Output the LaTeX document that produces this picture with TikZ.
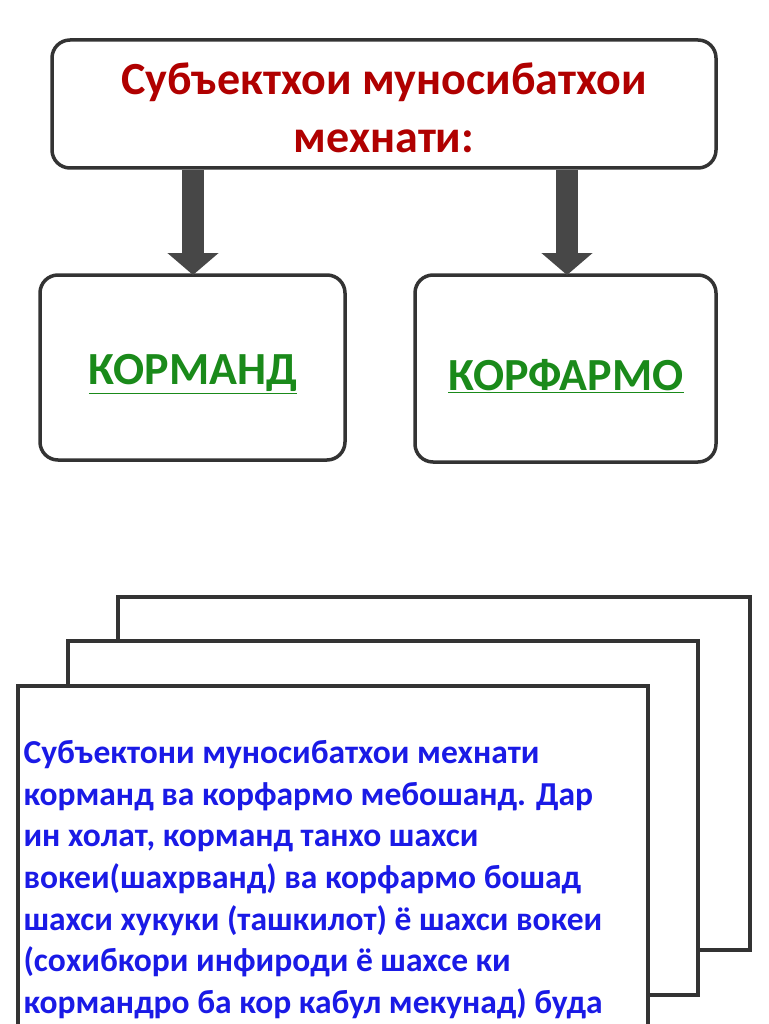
\documentclass[tikz,border=0pt]{standalone}
\usepackage{fontspec}
\setmainfont{Carlito}
\usetikzlibrary{arrows.meta}
\definecolor{boxgray}{HTML}{333333}
\definecolor{titlered}{HTML}{B00000}
\definecolor{roleg}{HTML}{1A8A1A}
\definecolor{textblue}{HTML}{1A1AE6}
\begin{document}
\begin{tikzpicture}[x=1pt, y=-1pt,
    rbox/.style={draw=boxgray, line width=3.5pt, rounded corners=18pt, fill=white},
    page/.style={draw=boxgray, line width=3.5pt, fill=white},
    bigarrow/.style={draw=boxgray!90, line width=22pt, -{Triangle[width=50pt,length=22pt]}}]
    \useasboundingbox (0,0) rectangle (768,1024);
    \clip (0,0) rectangle (768,1024);

    % Boxes
    \draw[rbox] (52,40) rectangle (716,168);
    \node (title) [font=\bfseries\fontsize{46}{58}\selectfont, text=titlered, align=center] at (384,108) {Субъектхои муносибатхои\\мехнати:};
    \draw[rbox] (40,275) rectangle (345,460);
    \node (worker) [font=\bfseries\fontsize{46}{52}\selectfont, text=roleg] at (193,374) {\underline{КОРМАНД}};
    \draw[rbox] (415,275) rectangle (716,462);
    \node (employer) [font=\bfseries\fontsize{46}{52}\selectfont, text=roleg] at (566,376) {\underline{КОРФАРМО}};

    % Arrows
    \coordinate (a1) at (193,170);
    \coordinate (b1) at (193,275);
    \coordinate (a2) at (567,170);
    \coordinate (b2) at (567,275);
    \draw[bigarrow] (a1) -- (b1);
    \draw[bigarrow] (a2) -- (b2);

    % Pages
    \draw[page] (118,597) rectangle (750,950);
    \draw[page] (68,641) rectangle (698,995);
    \draw[page] (18,686) rectangle (648,1060);
    \node (note) [anchor=north west, align=left, text=textblue, font=\bfseries\fontsize{33.5}{41.6}\selectfont] at (20,737)
      {Субъектони муносибатхои мехнати\\
       корманд ва корфармо мебошанд. Дар\\
       ин холат, корманд танхо шахси\\
       вокеи(шахрванд) ва корфармо бошад\\
       шахси хукуки (ташкилот) ё шахси вокеи\\
       (сохибкори инфироди ё шахсе ки\\
       кормандро ба кор кабул мекунад) буда};
\end{tikzpicture}
\end{document}
